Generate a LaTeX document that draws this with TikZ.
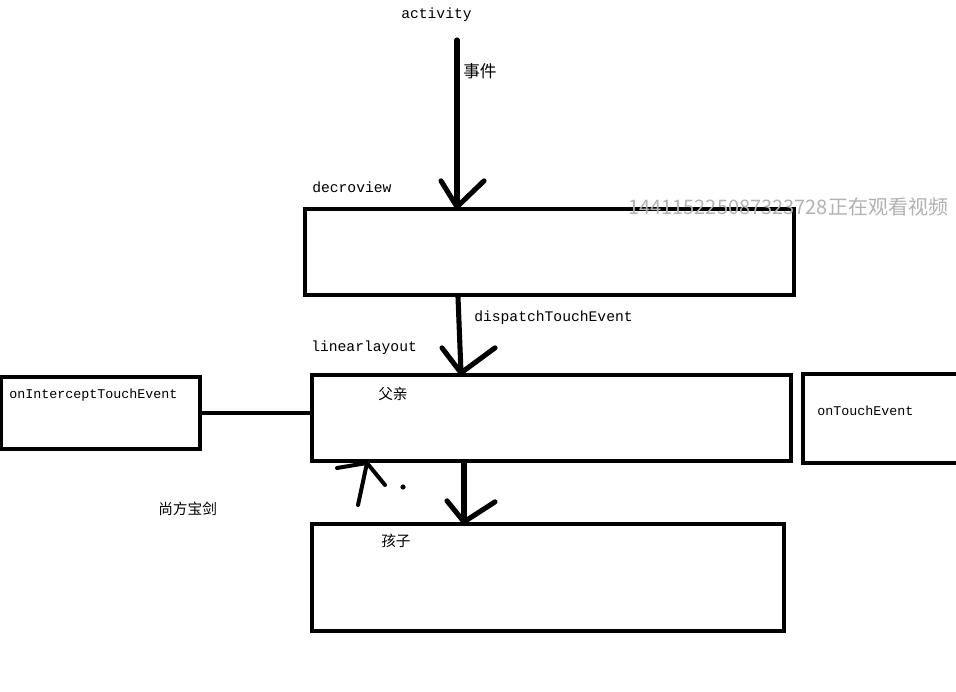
\documentclass[tikz,border=0pt]{standalone}
\usepackage{fontspec}
\setmonofont{Liberation Mono}
\newfontfamily\cjk{Noto Sans CJK SC}
\usetikzlibrary{fit,calc}
\begin{document}
\begin{tikzpicture}[x=0.75pt,y=-0.75pt,
  box/.style={draw=black,line width=3.2pt,inner sep=0pt},
  conn/.style={draw=black,line width=3.8pt,line cap=round,line join=round},
  lbl/.style={font=\ttfamily\fontsize{11}{13}\selectfont,inner sep=0pt},
  slbl/.style={font=\ttfamily\fontsize{10}{12}\selectfont,inner sep=0pt},
  zh/.style={font=\cjk\fontsize{11}{13}\selectfont,inner sep=0pt}]
\useasboundingbox[fill=white] (0,0) rectangle (956,692);

% boxes
\node[box,fit={(305,209) (794,295)}] (decro) {};
\node[box,fit={(312,375) (791,461)}] (linear) {};
\node[box,fit={(312,524) (784,631)}] (child) {};
\node[box,fit={(1,377) (200,449)}] (inter) {};
\node[box,fit={(803,374) (962,463)}] (touch) {};

% labels
\node[lbl,anchor=west] (activity) at (401,15) {activity};
\node[zh,anchor=west,font=\cjk\fontsize{12.5}{14}\selectfont] (shijian) at (463,71) {事件};
\node[lbl,anchor=west] (decrolbl) at (312,187) {decroview};
\node[lbl,anchor=west] (dispatch) at (474,318) {dispatchTouchEvent};
\node[lbl,anchor=west] (linearlbl) at (311,348) {linearlayout};
\node[zh,anchor=west] (father) at (378,394) {父亲};
\node[slbl,anchor=west] (intertxt) at (9,395) {onInterceptTouchEvent};
\node[slbl,anchor=west] (touchtxt) at (817,411) {onTouchEvent};
\node[zh,anchor=west] (sword) at (158,509) {尚方宝剑};
\node[zh,anchor=west] (kid) at (381,541) {孩子};

% watermark
\node[font=\cjk\fontsize{15}{17}\selectfont,text=black!30,anchor=west,inner sep=0pt] (wm)
  at (628,207) {144115225087323728正在观看视频};

% arrow 1: activity -> decroview
\coordinate (a1s) at (457,40);
\coordinate (a1t) at (decro.north -| a1s);
\draw[conn] (a1s) -- (a1t);
\draw[conn] ($(a1t)+(-16,-26)$) -- (a1t) -- ($(a1t)+(27,-26)$);

% arrow 2: decroview -> linearlayout
\coordinate (a2s) at (decro.south -| 458,0);
\coordinate (a2t) at (linear.north -| 461,0);
\draw[conn] (a2s) -- (a2t);
\draw[conn] ($(a2t)+(-19,-25)$) -- (a2t) -- ($(a2t)+(34,-25)$);

% arrow 3: linearlayout -> child
\coordinate (a3s) at (linear.south -| 464,0);
\coordinate (a3t) at (child.north -| 464,0);
\draw[conn] (a3s) -- (a3t);
\draw[conn] ($(a3t)+(-17,-21)$) -- (a3t) -- ($(a3t)+(31,-20)$);

% connector onIntercept -- linearlayout
\draw[line width=3pt] (inter.east) -- (inter.east -| linear.west);

% hand-drawn upward arrow and dot
\draw[line width=3pt,line cap=round,line join=round]
  (337,468) -- (367,463) -- (385,485);
\draw[line width=3pt,line cap=round] (367,463) -- (358,505);
\fill (403,487) circle (2.6);
\end{tikzpicture}
\end{document}
